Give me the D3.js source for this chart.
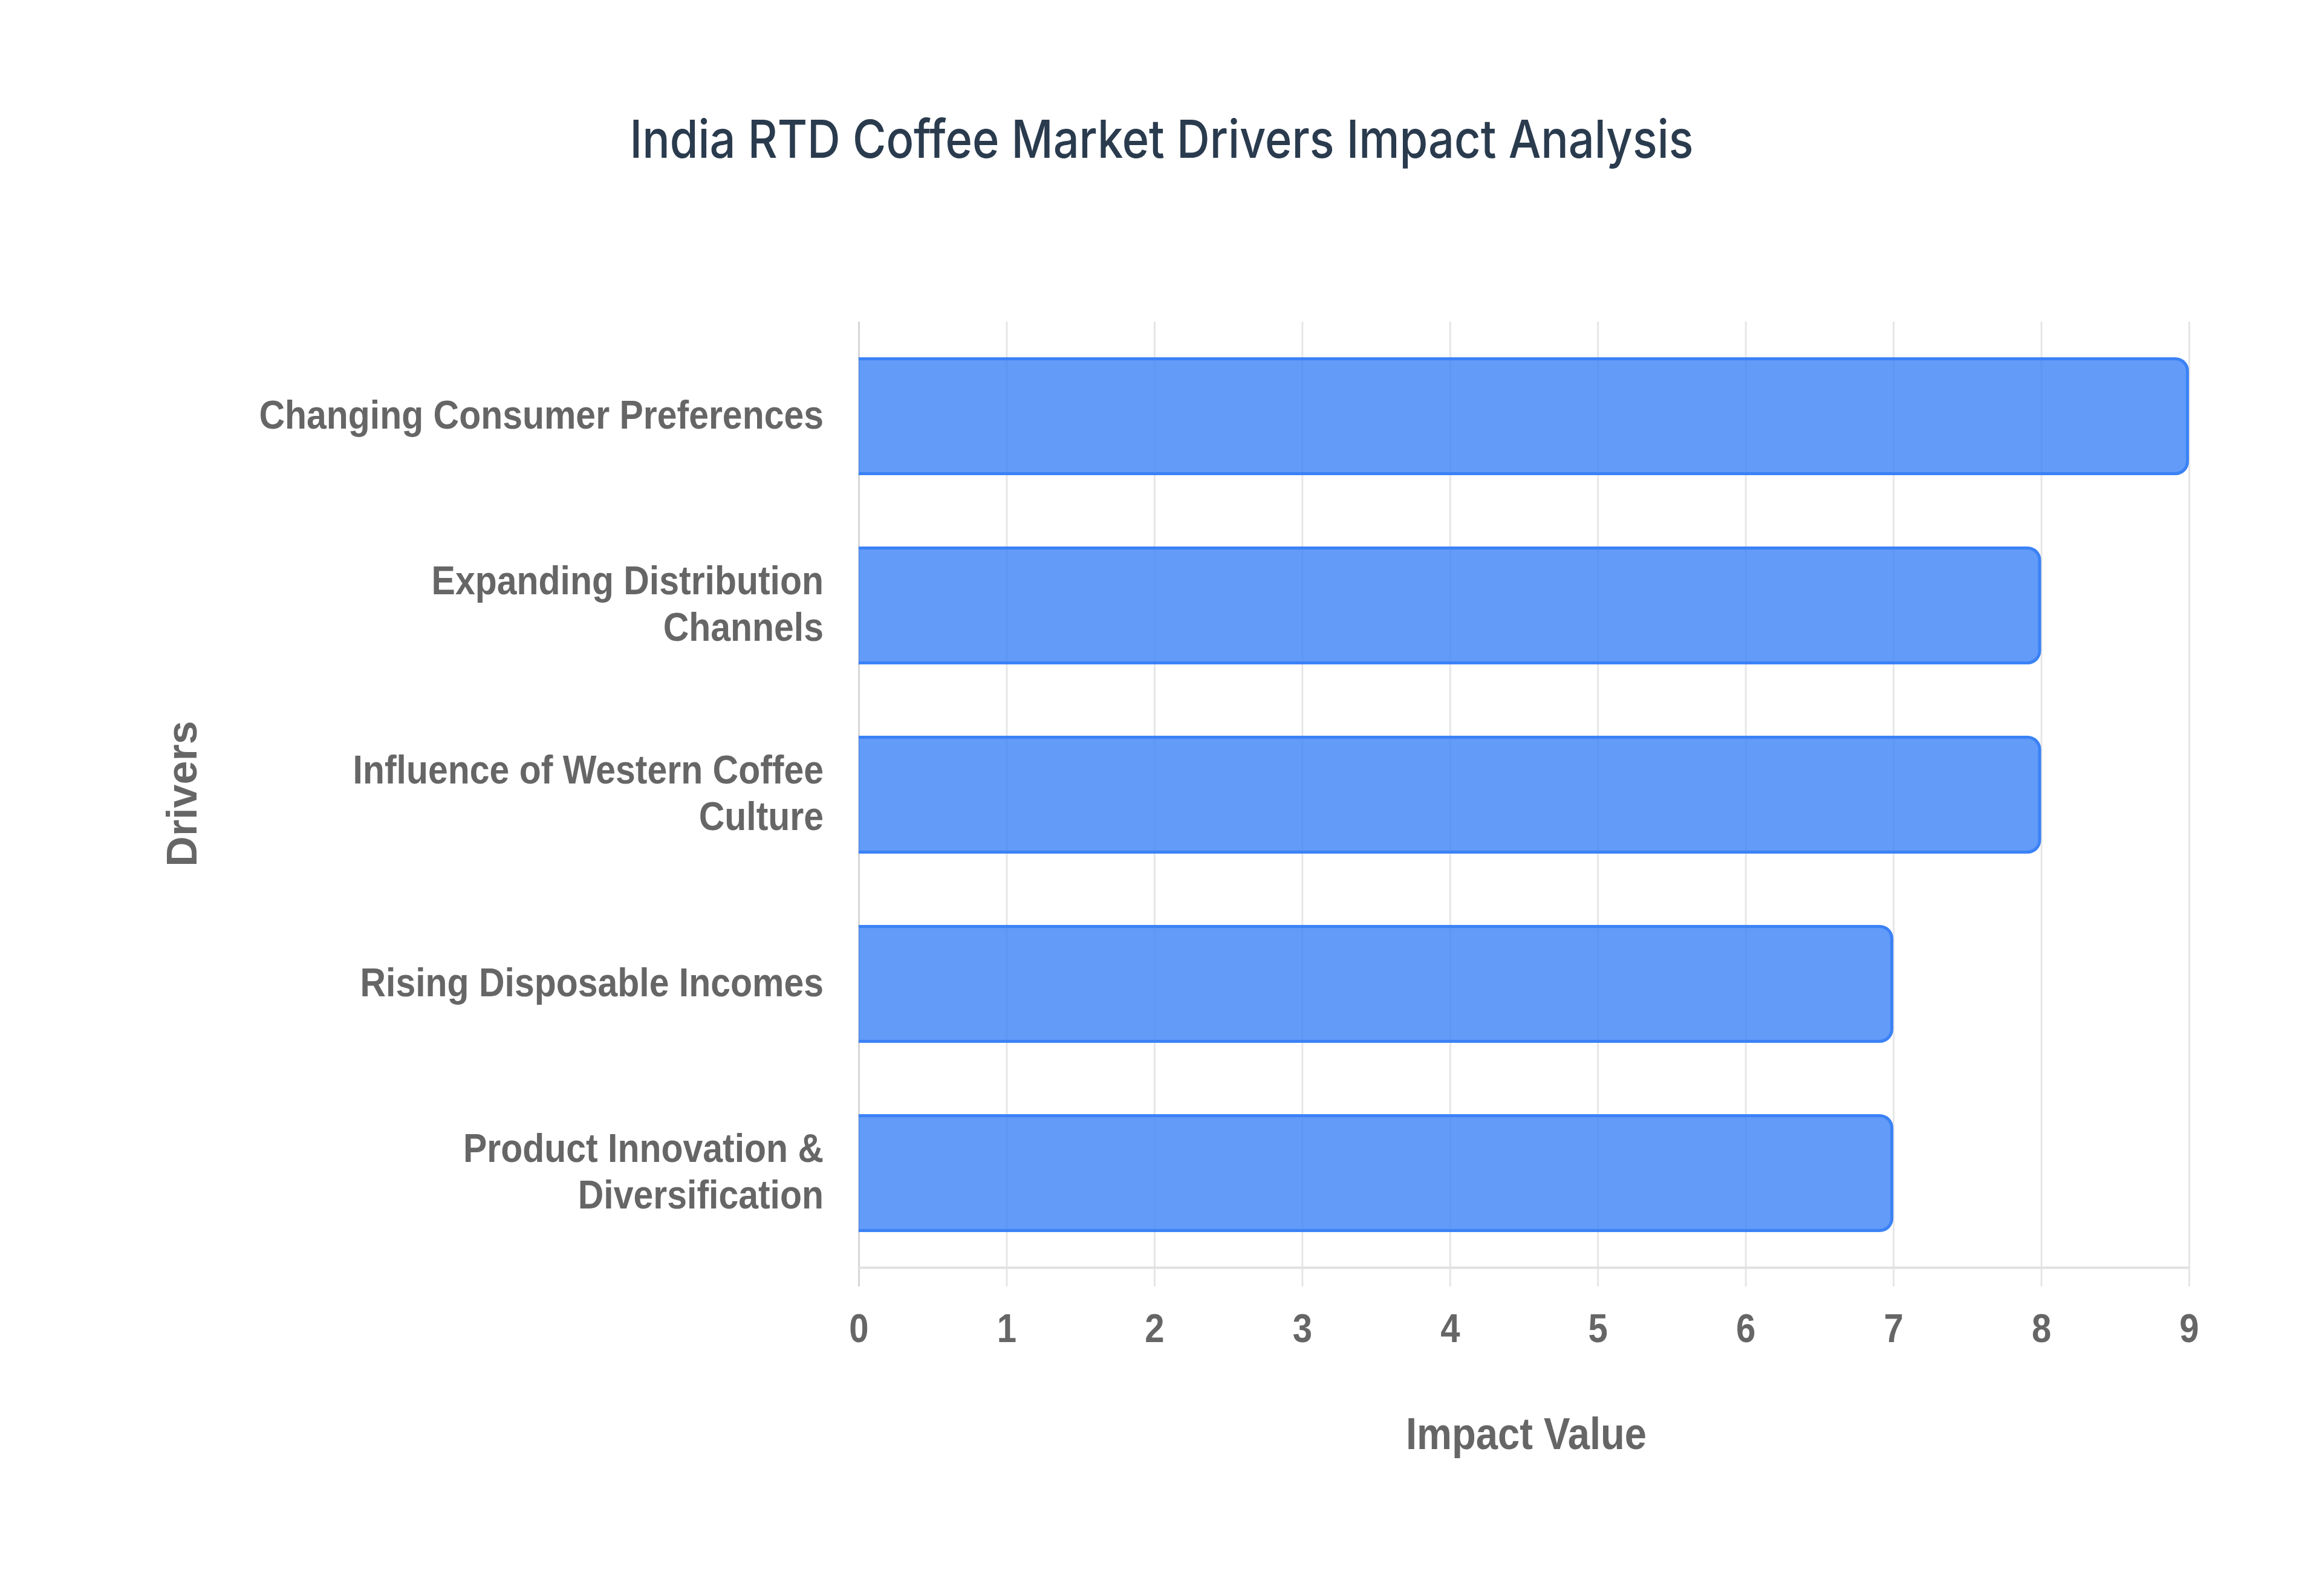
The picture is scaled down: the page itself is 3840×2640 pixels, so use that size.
<!DOCTYPE html>
<html>
<head>
<meta charset="utf-8">
<script src="https://cdn.jsdelivr.net/npm/d3@7"></script>
<style>
  html, body { margin: 0; padding: 0; background: #fff; }
  svg { display: block; }
</style>
</head>
<body>
<script>
// Chart data
const categories = [
  'Changing Consumer Preferences',
  'Expanding Distribution Channels',
  'Influence of Western Coffee Culture',
  'Rising Disposable Incomes',
  'Product Innovation & Diversification'
]
const impactValues = [9, 8, 8, 7, 7]
const xTickValues = [0, 1, 2, 3, 4, 5, 6, 7, 8, 9]

const width = 3840
const height = 2640
const plot = { left: 1420, right: 3620, top: 532, bottom: 2097 }
const squeeze = 0.88
const labelFont = '"Liberation Sans", Arial, Helvetica, sans-serif'

const svg = d3.select('body')
  .append('svg')
  .attr('width', width)
  .attr('height', height)

svg.append('rect')
  .attr('width', width)
  .attr('height', height)
  .attr('fill', '#ffffff')

const x = d3.scaleLinear()
  .domain([0, 9])
  .range([plot.left, plot.right])

const y = d3.scaleBand()
  .domain(categories)
  .range([plot.top, plot.bottom])
  .paddingInner(0.377)
  .paddingOuter(0.1885)

// Vertical grid lines + tick labels (grid runs a bit below the plot like tick marks)
const tickEnd = plot.bottom + 31
const xAxis = svg.append('g')
  .attr('transform', `translate(0, ${tickEnd})`)
  .call(d3.axisBottom(x)
    .tickValues(xTickValues)
    .tickFormat(d3.format('d'))
    .tickSize(-(tickEnd - plot.top))
    .tickPadding(45))

xAxis.select('.domain').remove()
xAxis.selectAll('.tick line')
  .attr('stroke', (d) => d === 0 ? '#d6d6d6' : '#e6e6e6')
  .attr('stroke-width', 3)
xAxis.selectAll('.tick text')
  .attr('fill', '#666666')
  .attr('font-family', labelFont)
  .attr('font-weight', 'bold')
  .attr('font-size', 66)
  .attr('transform', `scale(${squeeze}, 1)`)

// Bottom border of the plot
svg.append('line')
  .attr('x1', x(0))
  .attr('x2', x(9))
  .attr('y1', plot.bottom)
  .attr('y2', plot.bottom)
  .attr('stroke', '#e2e2e2')
  .attr('stroke-width', 4)

// Bars: rounded at the value end, no border on the axis side
const radius = 20
const border = 5
function barPath (v, cat) {
  const x0 = x(0)
  const x1 = x(v) - border / 2
  const y0 = y(cat) + border / 2
  const y1 = y(cat) + y.bandwidth() - border / 2
  return `M${x0},${y0}H${x1 - radius}` +
    `A${radius},${radius} 0 0 1 ${x1},${y0 + radius}` +
    `V${y1 - radius}` +
    `A${radius},${radius} 0 0 1 ${x1 - radius},${y1}` +
    `H${x0}`
}

svg.append('g')
  .selectAll('path')
  .data(categories)
  .enter()
  .append('path')
  .attr('d', (d, i) => barPath(impactValues[i], d))
  .attr('fill', 'rgba(59, 130, 246, 0.8)')
  .attr('stroke', '#3b82f6')
  .attr('stroke-width', border)
  .attr('stroke-linejoin', 'round')

// Category labels, wrapped at ~30 characters
function wrap (label, maxChars) {
  const lines = []
  let line = ''
  label.split(' ').forEach((word) => {
    const next = line ? line + ' ' + word : word
    if (next.length > maxChars && line) {
      lines.push(line)
      line = word
    } else {
      line = next
    }
  })
  lines.push(line)
  return lines
}

const lineHeight = 77
const yAxis = svg.append('g')
  .attr('transform', 'translate(1362, 0)')
  .call(d3.axisLeft(y).tickSize(0).tickPadding(0))

yAxis.select('.domain').remove()
yAxis.selectAll('.tick text')
  .attr('fill', '#666666')
  .attr('font-family', labelFont)
  .attr('font-weight', 'bold')
  .attr('font-size', 67)
  .attr('text-anchor', 'end')
  .attr('dy', null)
  .attr('transform', `scale(${squeeze}, 1)`)
  .each(function (d) {
    const lines = wrap(d, 30)
    const text = d3.select(this).text(null)
    lines.forEach((ln, i) => {
      text.append('tspan')
        .attr('x', 0)
        .attr('y', (i - (lines.length - 1) / 2) * lineHeight + 20)
        .text(ln)
    })
  })

// Axis titles
svg.append('text')
  .attr('transform', 'translate(325, 1313) rotate(-90)')
  .attr('text-anchor', 'middle')
  .attr('fill', '#666666')
  .attr('font-family', labelFont)
  .attr('font-weight', 'bold')
  .attr('font-size', 70)
  .text('Drivers')

svg.append('text')
  .attr('transform', `translate(2524, 2397) scale(${squeeze}, 1)`)
  .attr('text-anchor', 'middle')
  .attr('fill', '#666666')
  .attr('font-family', labelFont)
  .attr('font-weight', 'bold')
  .attr('font-size', 74)
  .text('Impact Value')

// Chart title
svg.append('text')
  .attr('transform', 'translate(1921, 261) scale(0.87, 1)')
  .attr('text-anchor', 'middle')
  .attr('fill', '#2a3b4e')
  .attr('font-family', 'Inter, "Noto Sans", sans-serif')
  .attr('font-weight', 500)
  .attr('font-size', 87)
  .text('India RTD Coffee Market Drivers Impact Analysis')
</script>
</body>
</html>
